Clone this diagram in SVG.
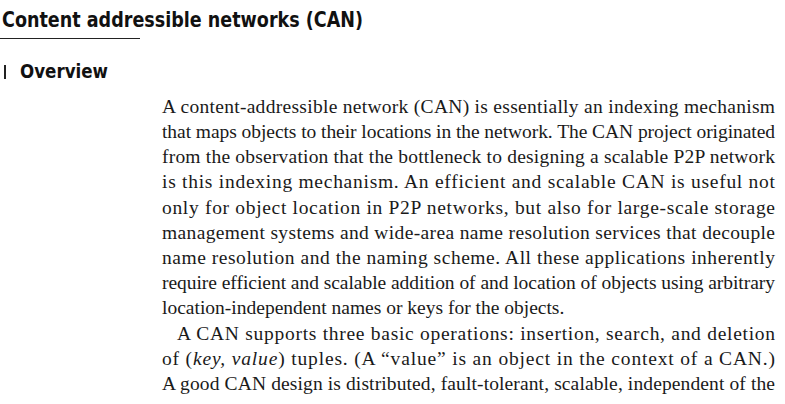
<svg xmlns="http://www.w3.org/2000/svg" width="785" height="404" viewBox="0 0 785 404">
<style>
.h{font-family:"DejaVu Sans Condensed","DejaVu Sans",sans-serif;font-weight:bold;fill:#111}
.b{font-family:"Liberation Serif",serif;font-size:19.5px;fill:#1a1a1a}
</style>
<rect width="785" height="404" fill="#fff"/>
<text class="h" x="2" y="27" font-size="22" textLength="361" lengthAdjust="spacingAndGlyphs">Content addressible networks (CAN)</text>
<line x1="0" y1="38.5" x2="140" y2="38.5" stroke="#222" stroke-width="1"/>
<rect x="4" y="65" width="2" height="14" fill="#222"/>
<text class="h" x="20" y="78" font-size="20" textLength="88" lengthAdjust="spacingAndGlyphs">Overview</text>
<g class="b">
<text x="162" y="113" textLength="613" lengthAdjust="spacing">A content-addressible network (CAN) is essentially an indexing mechanism</text>
<text x="162" y="138" textLength="613" lengthAdjust="spacing">that maps objects to their locations in the network. The CAN project originated</text>
<text x="162" y="163" textLength="613" lengthAdjust="spacing">from the observation that the bottleneck to designing a scalable P2P network</text>
<text x="162" y="188" textLength="613" lengthAdjust="spacing">is this indexing mechanism. An efficient and scalable CAN is useful not</text>
<text x="162" y="214" textLength="613" lengthAdjust="spacing">only for object location in P2P networks, but also for large-scale storage</text>
<text x="162" y="239" textLength="613" lengthAdjust="spacing">management systems and wide-area name resolution services that decouple</text>
<text x="162" y="264" textLength="613" lengthAdjust="spacing">name resolution and the naming scheme. All these applications inherently</text>
<text x="162" y="289" textLength="613" lengthAdjust="spacing">require efficient and scalable addition of and location of objects using arbitrary</text>
<text x="162" y="314">location-independent names or keys for the objects.</text>
<text x="177" y="340" textLength="598" lengthAdjust="spacing">A CAN supports three basic operations: insertion, search, and deletion</text>
<text x="162" y="365" textLength="613" lengthAdjust="spacing">of (<tspan font-style="italic">key, value</tspan>) tuples. (A “value” is an object in the context of a CAN.)</text>
<text x="162" y="390" textLength="613" lengthAdjust="spacing">A  good CAN design is distributed, fault-tolerant, scalable, independent of the</text>
</g>
</svg>
